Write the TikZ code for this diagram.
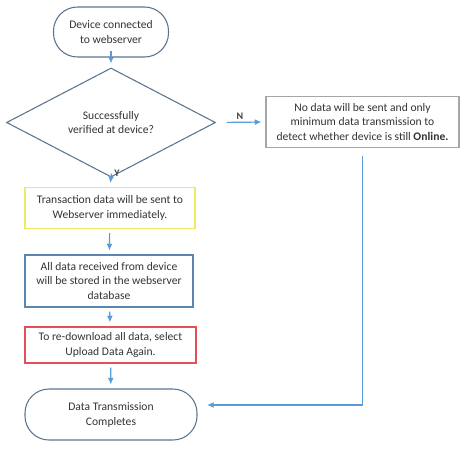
\documentclass[tikz,border=0pt]{standalone}
\usepackage{fontspec}
\setmainfont{Carlito}
\usetikzlibrary{shapes.geometric, arrows.meta}

\definecolor{flowblue}{HTML}{5B9BD5}
\definecolor{termline}{HTML}{5A7490}
\definecolor{boxblue}{HTML}{5A86B0}
\definecolor{boxyellow}{HTML}{EEEA66}
\definecolor{boxred}{HTML}{E2505A}
\definecolor{boxgray}{HTML}{A6A6A6}

\tikzset{
	terminal/.style={draw=termline, rectangle, rounded corners=18pt, line width=0.8pt, align=center, inner sep=0pt},
	decision/.style={draw=termline, diamond, line width=0.8pt, align=center, inner sep=0pt},
	process/.style={rectangle, line width=0.9pt, align=center, inner sep=0pt},
	flow/.style={draw=flowblue, line width=0.9pt, -{Latex[length=5pt, width=4.5pt]}, shorten <=3pt, shorten >=3pt},
	tag/.style={font=\fontsize{7.5}{9}\selectfont\bfseries, text=black!75, inner sep=0pt}
}

\begin{document}
\begin{tikzpicture}[x=0.75pt, y=-0.75pt, font=\fontsize{8.7}{11.2}\selectfont, text=black!80]
	\useasboundingbox (0,0) rectangle (474,451);

	\node [terminal, minimum width=86.25pt, minimum height=37.5pt] (start) at (111,32) {Device connected\\to webserver};
	\node [decision, minimum width=156.75pt, minimum height=60.75pt] (check) at (111,122.5) {Successfully\\verified at device?};
	\node [process, draw=boxgray, minimum width=144.75pt, minimum height=38.25pt] (online) at (362.5,122) {No data will be sent and only\\minimum data transmission to\\detect whether device is still \textbf{Online.}};
	\node [process, draw=boxyellow, minimum width=127.5pt, minimum height=30.75pt] (send) at (110,208) {Transaction data will be sent to\\Webserver immediately.};
	\node [process, draw=boxblue, minimum width=126pt, minimum height=39pt] (store) at (109,281) {All data received from device\\will be stored in the webserver\\database};
	\node [process, draw=boxred, minimum width=128.25pt, minimum height=27pt] (again) at (110.5,345) {To re-download all data, select\\Upload Data Again.};
	\node [terminal, minimum width=129pt, minimum height=38.25pt] (done) at (111,414.5) {Data Transmission\\Completes};

	\coordinate (turn) at (362.5,405);
	\coordinate (back) at (207,405);
	\coordinate (ymark) at (114,173);
	\coordinate (nmark) at (240,116);

	\draw [flow, shorten <=5pt] (start) -- (check);
	\draw [flow, shorten <=8pt] (check.east) -- (online.west);
	\node [tag] (no) at (nmark) {N};
	\draw [flow] (check.south) -- (send.north);
	\node [tag, anchor=west] (yes) at (ymark) {Y};
	\draw [flow] (send) -- (store);
	\draw [flow] (store) -- (again);
	\draw [flow] (again) -- (done);
	\draw [flow, shorten >=0pt, shorten <=6pt] (online.south) -- (turn) -- (back);
\end{tikzpicture}
\end{document}
